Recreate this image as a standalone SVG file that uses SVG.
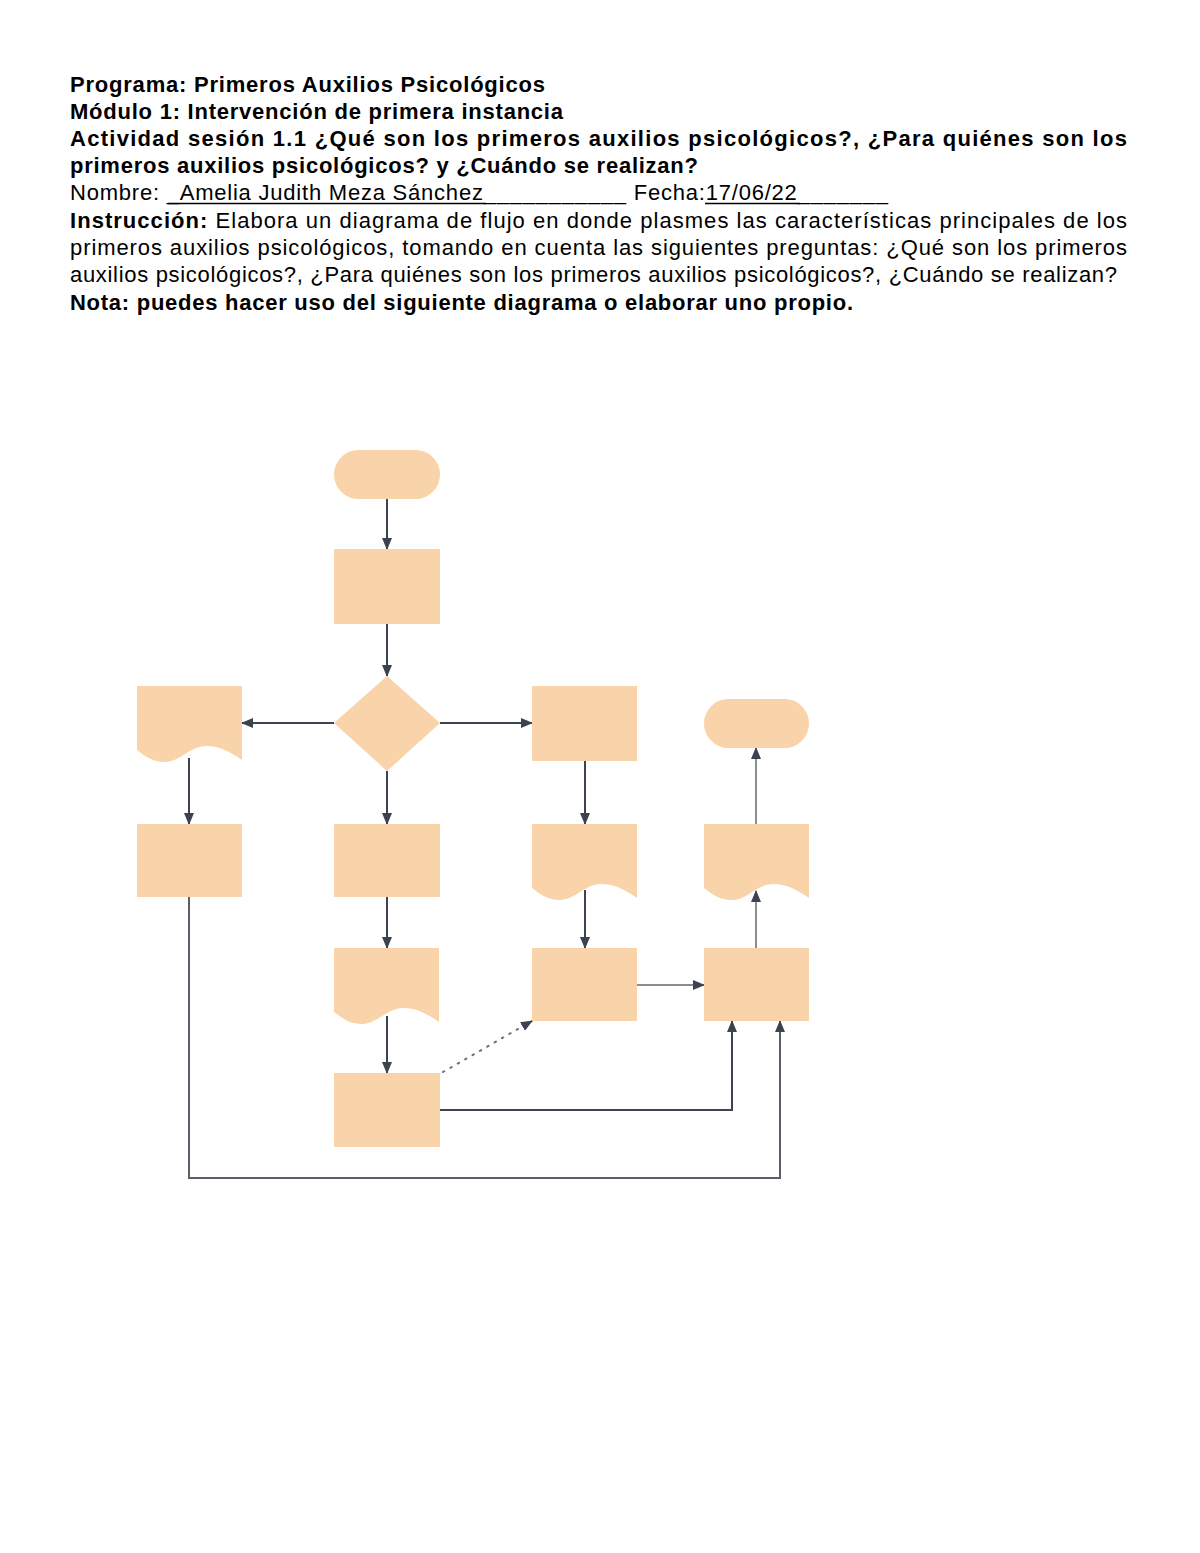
<svg xmlns="http://www.w3.org/2000/svg" width="1200" height="1553" viewBox="0 0 1200 1553">
<style>
text{font-family:"Liberation Sans",Arial,sans-serif;font-size:22px;fill:#000}
.b{font-weight:bold}
.ul{stroke:#000;stroke-width:1.6}
.shape{fill:#f9d3a9;stroke:none}
.c{fill:none;stroke:#3d4350;stroke-width:2}
.g{fill:none;stroke:#8a8d94;stroke-width:2}
.d{fill:none;stroke:#6b6f78;stroke-width:2;stroke-dasharray:1.5 7;stroke-linecap:round}
</style>
<defs>
<marker id="ah" markerUnits="userSpaceOnUse" markerWidth="12" markerHeight="10" refX="11" refY="5" orient="auto">
<path d="M0,0 L12,5 L0,10 Z" fill="#3b4250"/>
</marker>
<path id="doc" d="M0,0 H105 V74 C93,66 83,60 69,60 C53,60 43,76 28,76 C15,76 8,70 0,64 Z"/>
</defs>
<rect width="1200" height="1553" fill="#fff"/>
<g id="header">
<text x="70" y="92" class="b" textLength="475" lengthAdjust="spacing">Programa: Primeros Auxilios Psicológicos</text>
<text x="70" y="119" class="b" textLength="493" lengthAdjust="spacing">Módulo 1: Intervención de primera instancia</text>
<text x="70" y="146" class="b" textLength="1057" lengthAdjust="spacing">Actividad sesión 1.1 ¿Qué son los primeros auxilios psicológicos?, ¿Para quiénes son los</text>
<text x="70" y="173" class="b" textLength="628" lengthAdjust="spacing">primeros auxilios psicológicos? y ¿Cuándo se realizan?</text>
<text x="70" y="200" textLength="818" lengthAdjust="spacing">Nombre: _Amelia Judith Meza Sánchez___________ Fecha:17/06/22_______</text>
<line class="ul" x1="168" y1="203.5" x2="486" y2="203.5"/>
<line class="ul" x1="705" y1="203.5" x2="800" y2="203.5"/>
<text x="70" y="228" textLength="1057" lengthAdjust="spacing"><tspan class="b">Instrucción:</tspan> Elabora un diagrama de flujo en donde plasmes las características principales de los</text>
<text x="70" y="255" textLength="1057" lengthAdjust="spacing">primeros auxilios psicológicos, tomando en cuenta las siguientes preguntas: ¿Qué son los primeros</text>
<text x="70" y="282" textLength="1047" lengthAdjust="spacing">auxilios psicológicos?, ¿Para quiénes son los primeros auxilios psicológicos?, ¿Cuándo se realizan?</text>
<text x="70" y="310" class="b" textLength="783" lengthAdjust="spacing">Nota: puedes hacer uso del siguiente diagrama o elaborar uno propio.</text>
</g>
<g id="connectors">
<path class="c" d="M387,499 V549" marker-end="url(#ah)"/>
<path class="c" d="M387,624 V676" marker-end="url(#ah)"/>
<path class="c" d="M334,723 H242" marker-end="url(#ah)"/>
<path class="c" d="M440,723 H532" marker-end="url(#ah)"/>
<path class="c" d="M189,758 V824" marker-end="url(#ah)"/>
<path class="c" d="M387,771 V824" marker-end="url(#ah)"/>
<path class="c" d="M585,761 V824" marker-end="url(#ah)"/>
<path class="c" d="M387,897 V948" marker-end="url(#ah)"/>
<path class="c" d="M585,890 V948" marker-end="url(#ah)"/>
<path class="c" d="M387,1016 V1073" marker-end="url(#ah)"/>
<path class="d" d="M443,1072 L532,1021" marker-end="url(#ah)"/>
<path class="g" d="M637,985 H704" marker-end="url(#ah)"/>
<path class="g" d="M756,948 V891" marker-end="url(#ah)"/>
<path class="g" d="M756,824 V748" marker-end="url(#ah)"/>
<path class="c" d="M440,1110 H732 V1021" marker-end="url(#ah)"/>
<path class="c" d="M189,897 V1178 H780 V1021" marker-end="url(#ah)" style="stroke:#5a5f69"/>
</g>
<g id="start"><rect class="shape" x="334" y="450" width="106" height="49" rx="24.5"/></g>
<g id="process1"><rect class="shape" x="334" y="549" width="106" height="75"/></g>
<g id="decision"><polygon class="shape" points="387,676 440,723 387,771 334,723"/></g>
<g id="doc-left"><use href="#doc" class="shape" x="137" y="686"/></g>
<g id="process-right"><rect class="shape" x="532" y="686" width="105" height="75"/></g>
<g id="end"><rect class="shape" x="704" y="699" width="105" height="49" rx="24.5"/></g>
<g id="process-left2"><rect class="shape" x="137" y="824" width="105" height="73"/></g>
<g id="process-mid2"><rect class="shape" x="334" y="824" width="106" height="73"/></g>
<g id="doc-right2"><use href="#doc" class="shape" x="532" y="824"/></g>
<g id="doc-far2"><use href="#doc" class="shape" x="704" y="824"/></g>
<g id="doc-mid3"><use href="#doc" class="shape" x="334" y="948"/></g>
<g id="process-right3"><rect class="shape" x="532" y="948" width="105" height="73"/></g>
<g id="process-far3"><rect class="shape" x="704" y="948" width="105" height="73"/></g>
<g id="process-mid4"><rect class="shape" x="334" y="1073" width="106" height="74"/></g>
</svg>
